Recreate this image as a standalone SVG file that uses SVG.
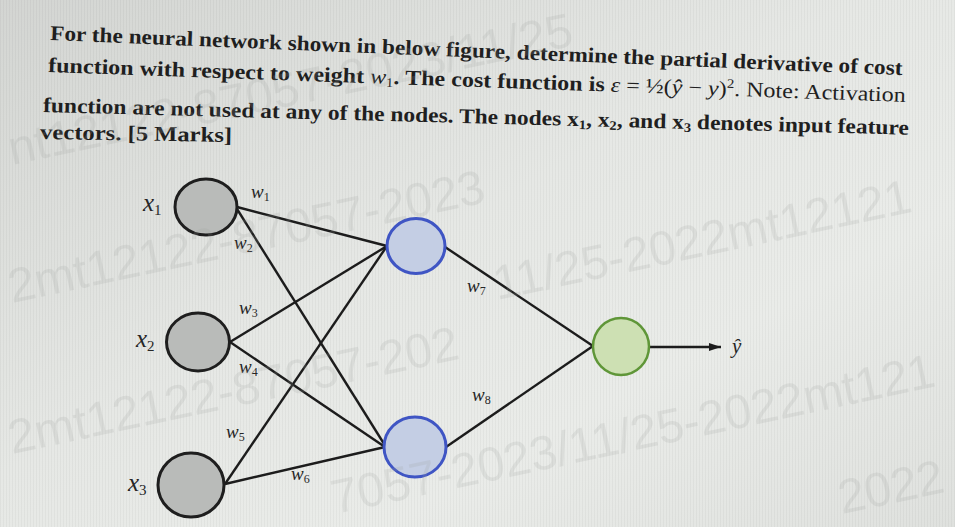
<svg xmlns="http://www.w3.org/2000/svg" width="955" height="527" viewBox="0 0 955 527">
<defs>
<style>
.q{font-family:"Liberation Serif","Times New Roman",serif;font-size:21px;font-weight:bold;fill:#1f1f1f}
.m{font-weight:normal;font-style:italic}
.n{font-weight:normal}
.wm{font-family:"Liberation Sans",Arial,sans-serif;font-size:48px;fill:#9da09d;opacity:0.18}
.in{fill:#b9bbb9;stroke:#1e1e1e;stroke-width:3}
.hid{fill:#c4cee4;stroke:#3f55c4;stroke-width:3}
.out{fill:#cde0b3;stroke:#5f9638;stroke-width:2.5}
.edge{stroke:#1c1c1c;stroke-width:2.4;fill:none}
.lbl{font-family:"Liberation Serif","Times New Roman",serif;font-style:italic;fill:#262626}
.wl{font-size:19px}
.xl{font-size:25px}
.sb{font-style:normal}
</style>
<linearGradient id="bg" x1="0" y1="0" x2="1" y2="1">
<stop offset="0" stop-color="#d3d5d2"/>
<stop offset="0.45" stop-color="#e6e8e5"/>
<stop offset="0.7" stop-color="#eaece9"/>
<stop offset="1" stop-color="#dfe1de"/>
</linearGradient>
<pattern id="stripes" width="3" height="3" patternUnits="userSpaceOnUse">
<rect x="0" y="0" width="1" height="3" fill="#000" opacity="0.035"/>
</pattern>
<marker id="ah" viewBox="0 0 12 8" refX="12" refY="4" markerWidth="12" markerHeight="8" markerUnits="userSpaceOnUse" orient="auto">
<path d="M0,0 L12,4 L0,8 Z" fill="#1c1c1c"/>
</marker>
</defs>

<rect width="955" height="527" fill="url(#bg)"/>
<rect width="955" height="527" fill="url(#stripes)"/>

<g id="question">
<text class="q" x="50" y="40" transform="rotate(2.35 50 40)" textLength="853" lengthAdjust="spacingAndGlyphs">For the neural network shown in below figure, determine the partial derivative of cost</text>
<text class="q" x="48" y="72" transform="rotate(2.0 48 72)" textLength="858" lengthAdjust="spacingAndGlyphs">function with respect to weight <tspan class="m">w</tspan><tspan class="n" font-size="13" dy="3">1</tspan><tspan dy="-3">. The cost function is </tspan><tspan class="m">ε</tspan><tspan class="n"> = ½(</tspan><tspan class="m">ŷ</tspan><tspan class="n"> − </tspan><tspan class="m">y</tspan><tspan class="n">)</tspan><tspan class="n" font-size="13" dy="-8">2</tspan><tspan class="n" dy="8">. Note: Activation</tspan></text>
<text class="q" x="43" y="112" transform="rotate(1.5 43 112)" textLength="866" lengthAdjust="spacingAndGlyphs">function are not used at any of the nodes. The nodes x<tspan font-size="13" dy="3">1</tspan><tspan dy="-3">, x</tspan><tspan font-size="13" dy="3">2</tspan><tspan dy="-3">, and x</tspan><tspan font-size="13" dy="3">3</tspan><tspan dy="-3"> denotes input feature</tspan></text>
<text class="q" x="40" y="139" transform="rotate(0.9 40 139)" textLength="192" lengthAdjust="spacingAndGlyphs">vectors. [5 Marks]</text>
</g>

<g id="connectors">
<line class="edge" x1="237" y1="207" x2="387" y2="246"/>
<line class="edge" x1="237" y1="209" x2="386" y2="447"/>
<line class="edge" x1="230" y1="342" x2="387" y2="246"/>
<line class="edge" x1="230" y1="342" x2="385" y2="447"/>
<line class="edge" x1="225" y1="484" x2="387" y2="246"/>
<line class="edge" x1="225" y1="484" x2="385" y2="447"/>
<line class="edge" x1="445" y1="247" x2="593" y2="346"/>
<line class="edge" x1="446" y1="447" x2="593" y2="346"/>
<line class="edge" x1="649" y1="347" x2="721" y2="347" marker-end="url(#ah)"/>
<text class="lbl wl" x="251" y="198">w<tspan class="sb" font-size="12" dy="3">1</tspan></text>
<text class="lbl wl" x="234" y="249">w<tspan class="sb" font-size="12" dy="3">2</tspan></text>
<text class="lbl wl" x="239" y="314">w<tspan class="sb" font-size="12" dy="3">3</tspan></text>
<text class="lbl wl" x="239" y="373">w<tspan class="sb" font-size="12" dy="3">4</tspan></text>
<text class="lbl wl" x="226" y="438">w<tspan class="sb" font-size="12" dy="3">5</tspan></text>
<text class="lbl wl" x="291" y="480">w<tspan class="sb" font-size="12" dy="3">6</tspan></text>
<text class="lbl wl" x="467" y="292">w<tspan class="sb" font-size="12" dy="3">7</tspan></text>
<text class="lbl wl" x="472" y="401">w<tspan class="sb" font-size="12" dy="3">8</tspan></text>
<text class="lbl" x="732" y="353" font-size="21">ŷ</text>
</g>

<g id="x1">
<ellipse class="in" cx="206" cy="207" rx="31" ry="28"/>
<text class="lbl xl" x="143" y="211">x<tspan class="sb" font-size="15" dy="4">1</tspan></text>
</g>
<g id="x2">
<ellipse class="in" cx="198" cy="342" rx="31.5" ry="29"/>
<text class="lbl xl" x="136" y="347">x<tspan class="sb" font-size="15" dy="4">2</tspan></text>
</g>
<g id="x3">
<ellipse class="in" cx="191" cy="485" rx="33" ry="32"/>
<text class="lbl xl" x="128" y="491">x<tspan class="sb" font-size="15" dy="4">3</tspan></text>
</g>
<g id="h1">
<ellipse class="hid" cx="416" cy="246" rx="29" ry="27.5"/>
</g>
<g id="h2">
<ellipse class="hid" cx="415" cy="447" rx="31" ry="30"/>
</g>
<g id="out">
<ellipse class="out" cx="621" cy="346.5" rx="28" ry="28.5"/>
</g>

<g id="watermarks">
<text class="wm" x="12" y="165" transform="rotate(-12 12 165)" opacity="0.1">nt12122-87057-2023/11/25</text>
<text class="wm" x="12" y="303" transform="rotate(-12 12 303)">2mt12122-87057-2023</text>
<text class="wm" x="497" y="300" transform="rotate(-12 497 300)">11/25-2022mt12121</text>
<text class="wm" x="12" y="454" transform="rotate(-12 12 454)">2mt12122-87057-202</text>
<text class="wm" x="335" y="514" transform="rotate(-12 335 514)">7057-2023/11/25-2022mt121</text>
<text class="wm" x="842" y="514" transform="rotate(-12 842 514)">2022</text>
</g>
</svg>
